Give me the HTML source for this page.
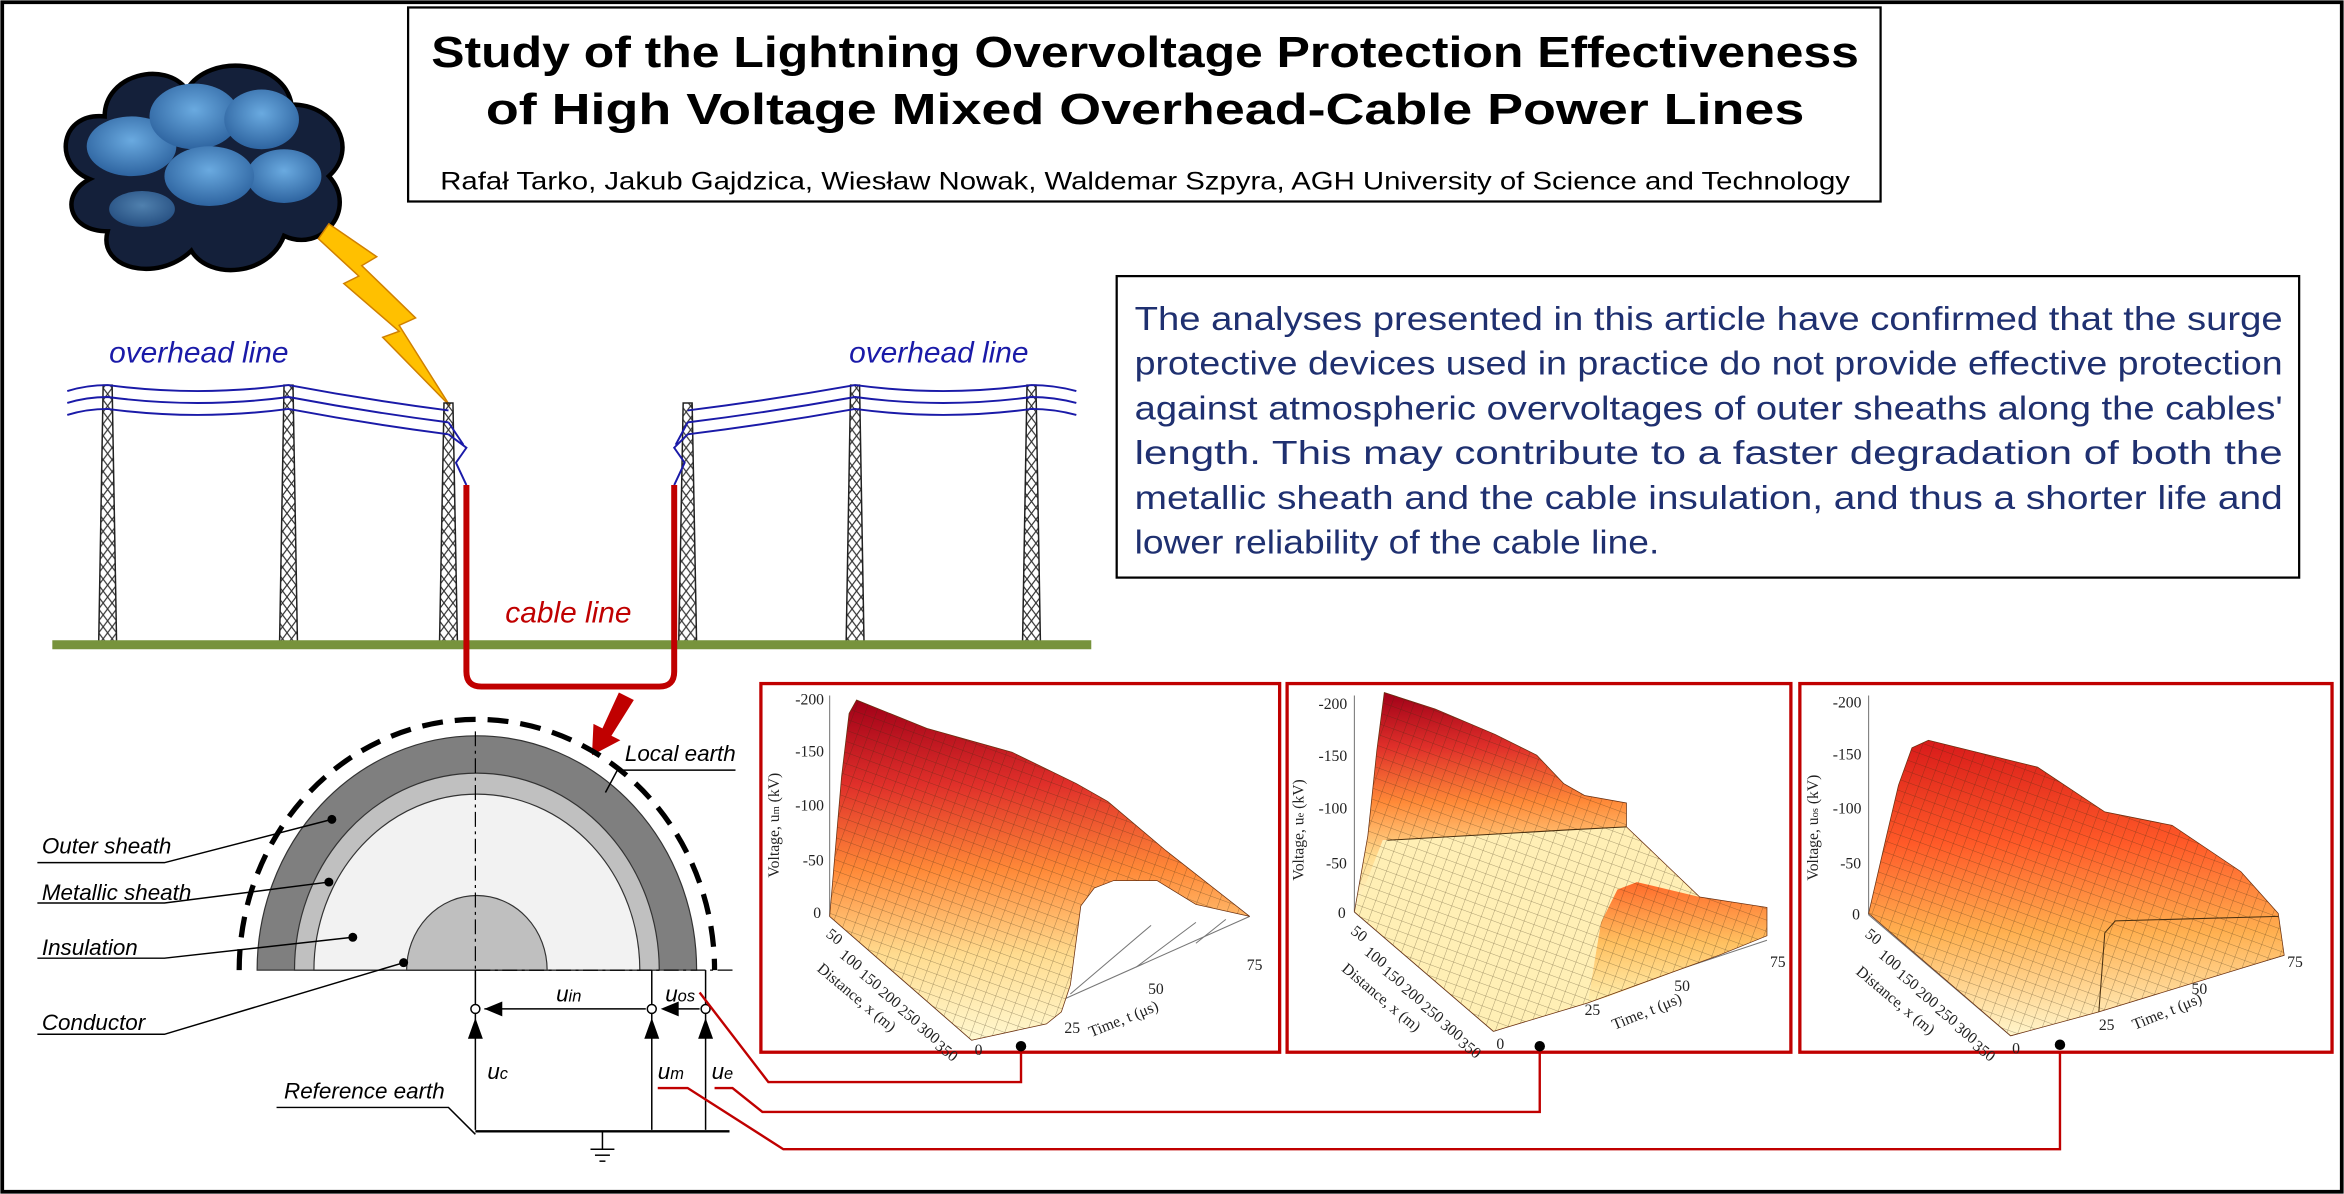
<!DOCTYPE html>
<html><head><meta charset="utf-8"><style>html,body{margin:0;padding:0;background:#fff}svg{display:block}</style></head><body>
<svg width="2344" height="1194" viewBox="0 0 1568 800" preserveAspectRatio="none" xmlns="http://www.w3.org/2000/svg" font-family="Liberation Sans, sans-serif">
<defs>
<linearGradient id="heat" x1="0" y1="0" x2="0" y2="1">
<stop offset="0" stop-color="#a00018"/><stop offset="0.25" stop-color="#e0302a"/><stop offset="0.5" stop-color="#ff8a38"/><stop offset="0.75" stop-color="#ffdc90"/><stop offset="1" stop-color="#fff8d0"/></linearGradient>
<linearGradient id="heat3" x1="0" y1="0" x2="0" y2="1">
<stop offset="0" stop-color="#d81a1a"/><stop offset="0.35" stop-color="#ff5a28"/><stop offset="0.65" stop-color="#ffb050"/><stop offset="1" stop-color="#fff6cc"/></linearGradient>
<linearGradient id="ridge" x1="0" y1="0" x2="0" y2="1">
<stop offset="0" stop-color="#ff6a2a"/><stop offset="0.5" stop-color="#ffc060"/><stop offset="1" stop-color="#fff0b0"/></linearGradient>
<pattern id="mesh" width="7" height="7" patternUnits="userSpaceOnUse" patternTransform="rotate(20)">
<path d="M0 0H7M0 0V7" stroke="#3a2a10" stroke-width="0.5" opacity="0.55" fill="none"/></pattern>
<pattern id="lat" width="6" height="8" patternUnits="userSpaceOnUse">
<path d="M0 0L6 8M6 0L0 8" stroke="#333" stroke-width="0.8" fill="none"/></pattern>
<radialGradient id="cl" cx="0.5" cy="0.4" r="0.6"><stop offset="0" stop-color="#6aaae0"/><stop offset="1" stop-color="#2e64a0"/></radialGradient>
</defs>
<rect x="1.5" y="1.5" width="1565" height="797" fill="#fff" stroke="#000" stroke-width="2.5"/>
<rect x="273" y="5" width="985" height="130" fill="#fff" stroke="#000" stroke-width="1.5"/>
<text x="766" y="45" font-size="29" font-weight="bold" text-anchor="middle" textLength="955" lengthAdjust="spacingAndGlyphs">Study of the Lightning Overvoltage Protection Effectiveness</text>
<text x="766" y="83" font-size="29" font-weight="bold" text-anchor="middle" textLength="882" lengthAdjust="spacingAndGlyphs">of High Voltage Mixed Overhead-Cable Power Lines</text>
<text x="766" y="127" font-size="17" text-anchor="middle" textLength="943" lengthAdjust="spacingAndGlyphs">Rafał Tarko, Jakub Gajdzica, Wiesław Nowak, Waldemar Szpyra, AGH University of Science and Technology</text>
<path d="M60 120 C35 110 40 75 70 78 C70 50 110 40 125 60 C140 35 190 40 195 70 C225 70 240 100 220 118 C240 140 215 170 190 158 C180 185 140 188 128 168 C105 190 65 180 72 155 C45 155 40 130 60 120Z" fill="#14203a" stroke="#000" stroke-width="3"/>
<g fill="url(#cl)">
<ellipse cx="88" cy="98" rx="30" ry="20"/><ellipse cx="130" cy="78" rx="30" ry="22"/><ellipse cx="175" cy="80" rx="25" ry="20"/><ellipse cx="190" cy="118" rx="25" ry="18"/><ellipse cx="140" cy="118" rx="30" ry="20"/><ellipse cx="95" cy="140" rx="22" ry="12" opacity="0.7"/></g>
<path d="M220 150 L252 172 L242 178 L278 213 L267 218 L301 272 L256 226 L267 222 L230 190 L240 185 L213 160Z" fill="#ffc000" stroke="#d08000" stroke-width="1"/>
<rect x="747" y="185" width="791" height="202" fill="#fff" stroke="#000" stroke-width="1.5"/>
<g font-size="22.5" fill="#1f3070">
<text x="759" y="221" textLength="768" lengthAdjust="spacingAndGlyphs">The analyses presented in this article have confirmed that the surge</text>
<text x="759" y="251" textLength="768" lengthAdjust="spacingAndGlyphs">protective devices used in practice do not provide effective protection</text>
<text x="759" y="281" textLength="768" lengthAdjust="spacingAndGlyphs">against atmospheric overvoltages of outer sheaths along the cables'</text>
<text x="759" y="311" textLength="768" lengthAdjust="spacingAndGlyphs">length. This may contribute to a faster degradation of both the</text>
<text x="759" y="341" textLength="768" lengthAdjust="spacingAndGlyphs">metallic sheath and the cable insulation, and thus a shorter life and</text>
<text x="759" y="371" textLength="351" lengthAdjust="spacingAndGlyphs">lower reliability of the cable line.</text>
</g>
<g>
<polygon points="69,258 75,258 78,432 66,432" fill="url(#lat)" stroke="#222" stroke-width="1"/>
<polygon points="190,258 196,258 199,432 187,432" fill="url(#lat)" stroke="#222" stroke-width="1"/>
<polygon points="297,270 303,270 306,432 294,432" fill="url(#lat)" stroke="#222" stroke-width="1"/>
<polygon points="457,270 463,270 466,432 454,432" fill="url(#lat)" stroke="#222" stroke-width="1"/>
<polygon points="569,258 575,258 578,432 566,432" fill="url(#lat)" stroke="#222" stroke-width="1"/>
<polygon points="687,258 693,258 696,432 684,432" fill="url(#lat)" stroke="#222" stroke-width="1"/>
</g>
<g stroke="#1a1aa8" stroke-width="1.3" fill="none">
<path d="M45 262 Q58 258 72 258 Q132 266 193 258 Q246 268 300 275"/>
<path d="M45 270 Q58 266 72 266 Q132 274 193 266 Q246 276 300 283"/>
<path d="M45 278 Q58 274 72 274 Q132 282 193 274 Q246 284 300 291"/>
<path d="M300 291 L312 300 L305 310 L312 325 M300 283 L310 298"/>
<path d="M460 275 Q516 268 572 258 Q631 266 690 258 Q705 258 720 262"/>
<path d="M460 283 Q516 276 572 266 Q631 274 690 266 Q705 266 720 270"/>
<path d="M460 291 Q516 284 572 274 Q631 282 690 274 Q705 274 720 278"/>
<path d="M460 291 L451 300 L458 310 L451 325 M460 283 L452 298"/>
</g>
<text x="73" y="243" font-size="20" font-style="italic" fill="#1a1aa8">overhead line</text>
<text x="568" y="243" font-size="20" font-style="italic" fill="#1a1aa8">overhead line</text>
<line x1="35" y1="432" x2="730" y2="432" stroke="#77933c" stroke-width="6"/>
<path d="M312 325 V450 Q312 460 322 460 H441 Q451 460 451 450 V325" fill="none" stroke="#c00000" stroke-width="4"/>
<text x="338" y="417" font-size="20" font-style="italic" fill="#c00000">cable line</text>
<polygon points="414,464 424,469 409,493 415,496 396,506 397,485 403,488" fill="#c00000"/>
<path d="M172 650 A147 157 0 0 1 466 650Z" fill="#7f7f7f" stroke="#333" stroke-width="0.8"/>
<path d="M197 650 A122 132 0 0 1 441 650Z" fill="#c0c0c0" stroke="#333" stroke-width="0.8"/>
<path d="M210 650 A109 118 0 0 1 428 650Z" fill="#f2f2f2" stroke="#333" stroke-width="0.8"/>
<path d="M272 650 A47 50 0 0 1 366 650Z" fill="#bfbfbf" stroke="#333" stroke-width="0.8"/>
<path d="M160 650 A159 168 0 0 1 478 650" fill="none" stroke="#000" stroke-width="3.5" stroke-dasharray="14,8"/>
<line x1="318" y1="490" x2="318" y2="650" stroke="#000" stroke-width="0.8" stroke-dasharray="10,3,2,3"/>
<line x1="318" y1="650" x2="490" y2="650" stroke="#000" stroke-width="0.9" stroke-dasharray="10,3,2,3"/>
<g font-size="15" font-style="italic" fill="#000">
<text x="28" y="572">Outer sheath</text><text x="28" y="603">Metallic sheath</text><text x="28" y="640">Insulation</text><text x="28" y="690">Conductor</text>
<text x="418" y="510">Local earth</text><text x="190" y="736">Reference earth</text>
</g>
<g stroke="#000" stroke-width="1" fill="none">
<path d="M25 578 H110 L222 549"/><path d="M25 605 H110 L220 591"/><path d="M25 642 H110 L236 628"/><path d="M25 693 H110 L270 645"/>
<path d="M492 516 H413 L405 531"/><path d="M185 742 H300 L318 760"/>
</g>
<g fill="#000"><circle cx="222" cy="549" r="3"/><circle cx="220" cy="591" r="3"/><circle cx="236" cy="628" r="3"/><circle cx="270" cy="645" r="3"/></g>
<g stroke="#000" stroke-width="1" fill="none">
<line x1="318" y1="650" x2="318" y2="757"/><line x1="436" y1="650" x2="436" y2="757"/><line x1="472" y1="650" x2="472" y2="757"/>
<line x1="324" y1="676" x2="432" y2="676"/><line x1="446" y1="676" x2="468" y2="676"/>
<line x1="318" y1="758" x2="488" y2="758" stroke-width="1.6"/>
<line x1="403" y1="758" x2="403" y2="770"/><line x1="395" y1="770" x2="411" y2="770"/><line x1="398" y1="774" x2="408" y2="774"/><line x1="401" y1="778" x2="405" y2="778"/>
</g>
<g fill="#000"><polygon points="324,676 336,671 336,681"/><polygon points="442,676 454,671 454,681"/><polygon points="318,682 313,696 323,696"/><polygon points="436,682 431,696 441,696"/><polygon points="472,682 467,696 477,696"/></g>
<g fill="#fff" stroke="#000" stroke-width="1"><circle cx="318" cy="676" r="3"/><circle cx="436" cy="676" r="3"/><circle cx="472" cy="676" r="3"/></g>
<g font-size="15" font-style="italic"><text x="372" y="671">u<tspan font-size="11">in</tspan></text><text x="445" y="671">u<tspan font-size="11">os</tspan></text><text x="326" y="723">u<tspan font-size="11">c</tspan></text><text x="440" y="723">u<tspan font-size="11">m</tspan></text><text x="476" y="723">u<tspan font-size="11">e</tspan></text></g>
<g stroke="#c00000" stroke-width="1.6" fill="none">
<path d="M468 665 L514 725 H683 V701"/><path d="M478 729 H490 L510 745 H1030 V701"/><path d="M440 729 H460 L524 770 H1378 V700"/>
</g>
<g fill="#fff" stroke="#c00000" stroke-width="2.2">
<rect x="509" y="458" width="347" height="247"/><rect x="861" y="458" width="337" height="247"/><rect x="1204" y="458" width="356" height="247"/>
</g>
<g fill="#000"><circle cx="683" cy="701" r="3.5"/><circle cx="1030" cy="701" r="3.5"/><circle cx="1378" cy="700" r="3.5"/></g>
<!-- chart 1 -->
<g stroke="#777" stroke-width="0.7">
<line x1="555" y1="466" x2="555" y2="614"/><line x1="555" y1="614" x2="650" y2="697"/><line x1="650" y1="697" x2="836" y2="614"/>
<line x1="716" y1="666" x2="770" y2="620"/><line x1="760" y1="648" x2="800" y2="618"/><line x1="800" y1="632" x2="820" y2="616"/>
</g>
<path d="M555 614 L563 520 L568 478 L573 469 L620 488 L677 504 L720 525 L741 537 L780 570 L836 614 L800 606 L774 590 L745 590 L732 595 L723 607 L716 660 L710 678 L700 686 L650 697 Z" fill="url(#heat)"/>
<path d="M555 614 L563 520 L568 478 L573 469 L620 488 L677 504 L720 525 L741 537 L780 570 L836 614 L800 606 L774 590 L745 590 L732 595 L723 607 L716 660 L710 678 L700 686 L650 697 Z" fill="url(#mesh)" stroke="#6a3010" stroke-width="0.5"/>
<g font-family="Liberation Serif, serif" font-size="10.5" fill="#222">
<text x="532" y="472">-200</text><text x="532" y="507">-150</text><text x="532" y="543">-100</text><text x="537" y="580">-50</text><text x="544" y="615">0</text>
<text x="521" y="588" transform="rotate(-90 521 588)">Voltage, u<tspan font-size="7">m</tspan> (kV)</text>
<text x="546" y="650" transform="rotate(40 546 650)">Distance, x (m)</text>
<text x="552" y="627" transform="rotate(38 552 627)">50</text><text x="561" y="641" transform="rotate(38 561 641)">100</text><text x="574" y="654" transform="rotate(38 574 654)">150</text><text x="587" y="666" transform="rotate(38 587 666)">200</text><text x="600" y="678" transform="rotate(38 600 678)">250</text><text x="613" y="690" transform="rotate(38 613 690)">300</text><text x="625" y="702" transform="rotate(38 625 702)">350</text>
<text x="652" y="707">0</text><text x="712" y="692">25</text><text x="768" y="666">50</text><text x="834" y="650">75</text>
<text x="730" y="695" transform="rotate(-22 730 695)">Time, t (μs)</text>
</g>
<!-- chart 2 -->
<g stroke="#777" stroke-width="0.7">
<line x1="906" y1="466" x2="906" y2="611"/><line x1="906" y1="611" x2="999" y2="691"/><line x1="999" y1="691" x2="1182" y2="630"/>
</g>
<path d="M906 611 L915 560 L921 503 L926 464 L960 475 L1000 492 L1028 506 L1046 525 L1060 533 L1088 538 L1088 554 L1080 560 L925 563 L912 600Z" fill="url(#heat)"/>
<path d="M906 611 L925 563 L1088 554 L1110 575 L1137 601 L1071 618 L1062 672 L999 691Z" fill="#ffefb5"/>
<path d="M1062 672 L1071 618 L1082 596 L1095 591 L1137 601 L1182 608 L1182 627 L1150 640 L1075 668Z" fill="url(#ridge)"/>
<path d="M906 611 L915 560 L921 503 L926 464 L960 475 L1000 492 L1028 506 L1046 525 L1060 533 L1088 538 L1088 554 L1137 601 L1182 608 L1182 627 L1150 640 L1062 672 L999 691Z" fill="url(#mesh)" stroke="#6a3010" stroke-width="0.5"/>
<path d="M928 563 L1050 556 L1088 554" fill="none" stroke="#4a3010" stroke-width="0.7"/>
<g font-family="Liberation Serif, serif" font-size="10.5" fill="#222">
<text x="882" y="475">-200</text><text x="882" y="510">-150</text><text x="882" y="545">-100</text><text x="887" y="582">-50</text><text x="895" y="615">0</text>
<text x="872" y="590" transform="rotate(-90 872 590)">Voltage, u<tspan font-size="7">e</tspan> (kV)</text>
<text x="897" y="650" transform="rotate(40 897 650)">Distance, x (m)</text>
<text x="903" y="625" transform="rotate(38 903 625)">50</text><text x="912" y="639" transform="rotate(38 912 639)">100</text><text x="924" y="652" transform="rotate(38 924 652)">150</text><text x="937" y="664" transform="rotate(38 937 664)">200</text><text x="950" y="676" transform="rotate(38 950 676)">250</text><text x="963" y="688" transform="rotate(38 963 688)">300</text><text x="975" y="700" transform="rotate(38 975 700)">350</text>
<text x="1001" y="703">0</text><text x="1060" y="680">25</text><text x="1120" y="664">50</text><text x="1184" y="648">75</text>
<text x="1080" y="690" transform="rotate(-22 1080 690)">Time, t (μs)</text>
</g>
<!-- chart 3 -->
<g stroke="#777" stroke-width="0.7">
<line x1="1250" y1="466" x2="1250" y2="613"/><line x1="1250" y1="613" x2="1345" y2="694"/><line x1="1345" y1="694" x2="1528" y2="640"/>
</g>
<path d="M1250 612 L1262 560 L1270 526 L1279 501 L1290 496 L1363 514 L1408 544 L1453 553 L1499 584 L1524 612 L1528 640 L1404 678 L1345 694 Z" fill="url(#heat3)"/>
<path d="M1250 612 L1262 560 L1270 526 L1279 501 L1290 496 L1363 514 L1408 544 L1453 553 L1499 584 L1524 612 L1528 640 L1404 678 L1345 694 Z" fill="url(#mesh)" stroke="#6a3010" stroke-width="0.5"/>
<path d="M1404 678 L1408 625 L1415 617 L1524 614" fill="none" stroke="#4a3010" stroke-width="0.7"/>
<g font-family="Liberation Serif, serif" font-size="10.5" fill="#222">
<text x="1226" y="474">-200</text><text x="1226" y="509">-150</text><text x="1226" y="545">-100</text><text x="1231" y="582">-50</text><text x="1239" y="616">0</text>
<text x="1216" y="590" transform="rotate(-90 1216 590)">Voltage, u<tspan font-size="7">os</tspan> (kV)</text>
<text x="1241" y="652" transform="rotate(40 1241 652)">Distance, x (m)</text>
<text x="1247" y="627" transform="rotate(38 1247 627)">50</text><text x="1256" y="641" transform="rotate(38 1256 641)">100</text><text x="1268" y="654" transform="rotate(38 1268 654)">150</text><text x="1281" y="666" transform="rotate(38 1281 666)">200</text><text x="1294" y="678" transform="rotate(38 1294 678)">250</text><text x="1307" y="690" transform="rotate(38 1307 690)">300</text><text x="1319" y="702" transform="rotate(38 1319 702)">350</text>
<text x="1346" y="706">0</text><text x="1404" y="690">25</text><text x="1466" y="666">50</text><text x="1530" y="648">75</text>
<text x="1428" y="690" transform="rotate(-22 1428 690)">Time, t (μs)</text>
</g>
</svg>
</body></html>
